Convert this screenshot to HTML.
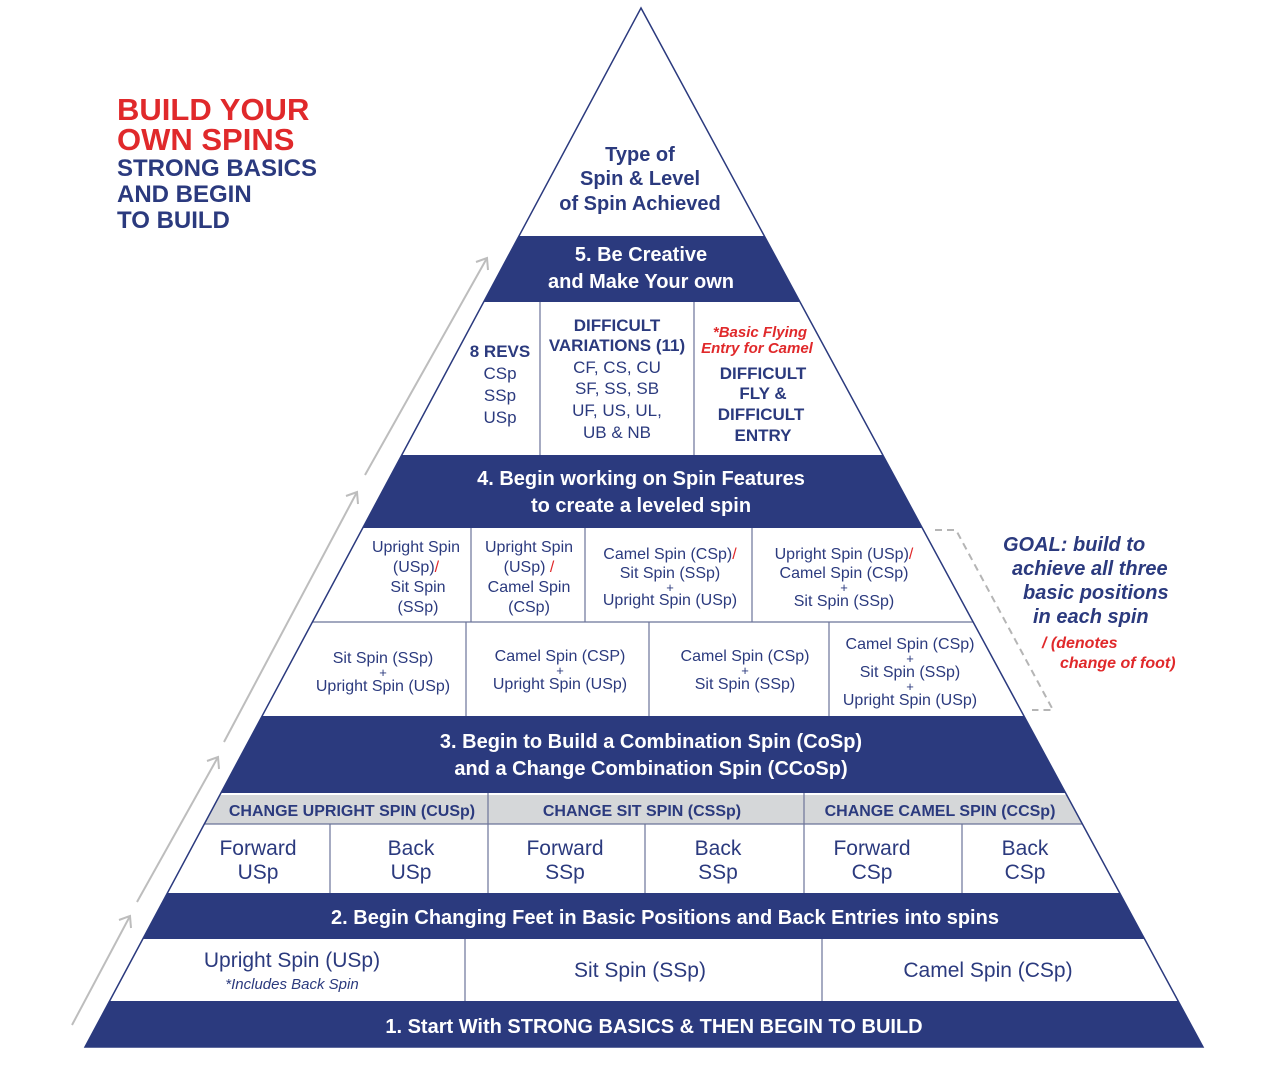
<!DOCTYPE html>
<html><head><meta charset="utf-8"><style>
html,body{margin:0;padding:0;background:#fff;}
svg{display:block;font-family:"Liberation Sans",sans-serif;}
</style></head><body>
<svg width="1280" height="1085" viewBox="0 0 1280 1085" xmlns="http://www.w3.org/2000/svg">
<defs>
<clipPath id="tri"><polygon points="641,8 85,1047 1203,1047"/></clipPath>
</defs>
<rect width="1280" height="1085" fill="#fff"/>
<g clip-path="url(#tri)">
  <rect x="0" y="236" width="1280" height="66" fill="#2b3a7e"/>
  <rect x="0" y="455" width="1280" height="73" fill="#2b3a7e"/>
  <rect x="0" y="716" width="1280" height="77" fill="#2b3a7e"/>
  <rect x="0" y="795" width="1280" height="29" fill="#d5d7d9"/>
  <rect x="0" y="893" width="1280" height="46" fill="#2b3a7e"/>
  <rect x="0" y="1001" width="1280" height="46" fill="#2b3a7e"/>
  <g stroke="#6b7399" stroke-width="1.2">
    <line x1="540" y1="302" x2="540" y2="455"/>
    <line x1="694" y1="302" x2="694" y2="455"/>
    <line x1="471" y1="528" x2="471" y2="622"/>
    <line x1="585" y1="528" x2="585" y2="622"/>
    <line x1="752" y1="528" x2="752" y2="622"/>
    <line x1="0" y1="622" x2="1280" y2="622"/>
    <line x1="466" y1="622" x2="466" y2="716"/>
    <line x1="649" y1="622" x2="649" y2="716"/>
    <line x1="829" y1="622" x2="829" y2="716"/>
    <line x1="488" y1="793" x2="488" y2="893"/>
    <line x1="804" y1="793" x2="804" y2="893"/>
    <line x1="0" y1="824" x2="1280" y2="824"/>
    <line x1="330" y1="824" x2="330" y2="893"/>
    <line x1="645" y1="824" x2="645" y2="893"/>
    <line x1="962" y1="824" x2="962" y2="893"/>
    <line x1="465" y1="939" x2="465" y2="1001"/>
    <line x1="822" y1="939" x2="822" y2="1001"/>
  </g>
</g>
<polygon points="641,8 85,1047 1203,1047" fill="none" stroke="#2b3a7e" stroke-width="1.5"/>

<!-- arrows -->
<g stroke="#bdbdbd" stroke-width="2" fill="none">
  <line x1="72" y1="1025" x2="130" y2="916"/><polyline points="119,920 130,916 131,928"/>
  <line x1="137" y1="902" x2="218" y2="757"/><polyline points="207,761 218,757 219,769"/>
  <line x1="224" y1="742" x2="357" y2="492"/><polyline points="346,496 357,492 358,504"/>
  <line x1="365" y1="475" x2="487" y2="258"/><polyline points="476,262 487,258 488,270"/>
</g>
<polyline points="935,530 956,530 1053,710 1032,710" fill="none" stroke="#b5b5b5" stroke-width="2" stroke-dasharray="7,5"/>

<!-- Title -->
<g font-weight="bold">
  <text x="117" y="120" font-size="31" fill="#e0292b">BUILD YOUR</text>
  <text x="117" y="150" font-size="31" fill="#e0292b">OWN SPINS</text>
  <text x="117" y="176" font-size="24" fill="#2b3a7e">STRONG BASICS</text>
  <text x="117" y="202" font-size="24" fill="#2b3a7e">AND BEGIN</text>
  <text x="117" y="228" font-size="24" fill="#2b3a7e">TO BUILD</text>
</g>

<g text-anchor="middle" fill="#2b3a7e">
  <g font-weight="bold" font-size="20">
    <text x="640" y="161">Type of</text>
    <text x="640" y="185">Spin &amp; Level</text>
    <text x="640" y="210">of Spin Achieved</text>
  </g>
  <g font-weight="bold" font-size="20" fill="#fff">
    <text x="641" y="261">5. Be Creative</text>
    <text x="641" y="288">and Make Your own</text>
    <text x="641" y="485">4. Begin working on Spin Features</text>
    <text x="641" y="512">to create a leveled spin</text>
    <text x="651" y="748">3. Begin to Build a Combination Spin (CoSp)</text>
    <text x="651" y="775">and a Change Combination Spin (CCoSp)</text>
    <text x="665" y="924">2. Begin Changing Feet in Basic Positions and Back Entries into spins</text>
    <text x="654" y="1033">1. Start With STRONG BASICS &amp; THEN BEGIN TO BUILD</text>
  </g>
  <text x="500" y="357" font-size="17" font-weight="bold">8 REVS</text>
  <g font-size="17"><text x="500" y="379">CSp</text><text x="500" y="401">SSp</text><text x="500" y="423">USp</text></g>
  <text x="617" y="331" font-size="17" font-weight="bold">DIFFICULT</text>
  <text x="617" y="351" font-size="17" font-weight="bold">VARIATIONS (11)</text>
  <g font-size="17"><text x="617" y="373">CF, CS, CU</text><text x="617" y="394">SF, SS, SB</text><text x="617" y="416">UF, US, UL,</text><text x="617" y="438">UB &amp; NB</text></g>
  <text x="760" y="337" font-size="15" font-weight="bold" font-style="italic" fill="#e0292b">*Basic Flying</text>
  <text x="757" y="353" font-size="15" font-weight="bold" font-style="italic" fill="#e0292b">Entry for Camel</text>
  <g font-size="17" font-weight="bold"><text x="763" y="379">DIFFICULT</text><text x="763" y="399">FLY &amp;</text><text x="761" y="420">DIFFICULT</text><text x="763" y="441">ENTRY</text></g>

  <g font-size="16">
    <text x="416" y="552">Upright Spin</text>
    <text x="416" y="572">(USp)<tspan fill="#e0292b">/</tspan></text>
    <text x="418" y="592">Sit Spin</text>
    <text x="418" y="612">(SSp)</text>
    <text x="529" y="552">Upright Spin</text>
    <text x="529" y="572">(USp) <tspan fill="#e0292b">/</tspan></text>
    <text x="529" y="592">Camel Spin</text>
    <text x="529" y="612">(CSp)</text>
    <text x="670" y="559">Camel Spin (CSp)<tspan fill="#e0292b">/</tspan></text>
    <text x="670" y="578">Sit Spin (SSp)</text>
    <text x="670" y="592" font-size="13">+</text>
    <text x="670" y="605">Upright Spin (USp)</text>
    <text x="844" y="559">Upright Spin (USp)<tspan fill="#e0292b">/</tspan></text>
    <text x="844" y="578">Camel Spin (CSp)</text>
    <text x="844" y="592" font-size="13">+</text>
    <text x="844" y="606">Sit Spin (SSp)</text>

    <text x="383" y="663">Sit Spin (SSp)</text>
    <text x="383" y="677" font-size="13">+</text>
    <text x="383" y="691">Upright Spin (USp)</text>
    <text x="560" y="661">Camel Spin (CSP)</text>
    <text x="560" y="675" font-size="13">+</text>
    <text x="560" y="689">Upright Spin (USp)</text>
    <text x="745" y="661">Camel Spin (CSp)</text>
    <text x="745" y="675" font-size="13">+</text>
    <text x="745" y="689">Sit Spin (SSp)</text>
    <text x="910" y="649">Camel Spin (CSp)</text>
    <text x="910" y="663" font-size="13">+</text>
    <text x="910" y="677">Sit Spin (SSp)</text>
    <text x="910" y="691" font-size="13">+</text>
    <text x="910" y="705">Upright Spin (USp)</text>
  </g>

  <g font-size="16" font-weight="bold">
    <text x="352" y="816">CHANGE UPRIGHT SPIN (CUSp)</text>
    <text x="642" y="816">CHANGE SIT SPIN (CSSp)</text>
    <text x="940" y="816">CHANGE CAMEL SPIN (CCSp)</text>
  </g>
  <g font-size="21">
    <text x="258" y="855">Forward</text><text x="258" y="879">USp</text>
    <text x="411" y="855">Back</text><text x="411" y="879">USp</text>
    <text x="565" y="855">Forward</text><text x="565" y="879">SSp</text>
    <text x="718" y="855">Back</text><text x="718" y="879">SSp</text>
    <text x="872" y="855">Forward</text><text x="872" y="879">CSp</text>
    <text x="1025" y="855">Back</text><text x="1025" y="879">CSp</text>
    <text x="292" y="967">Upright Spin (USp)</text>
    <text x="640" y="977">Sit Spin (SSp)</text>
    <text x="988" y="977">Camel Spin (CSp)</text>
  </g>
  <text x="292" y="989" font-size="15" font-style="italic">*Includes Back Spin</text>
</g>

<g font-weight="bold" font-style="italic" fill="#2b3a7e" font-size="20">
  <text x="1003" y="551">GOAL: build to</text>
  <text x="1012" y="575">achieve all three</text>
  <text x="1023" y="599">basic positions</text>
  <text x="1033" y="623">in each spin</text>
</g>
<g font-weight="bold" font-style="italic" fill="#e0292b" font-size="16">
  <text x="1042" y="648">/ (denotes</text>
  <text x="1060" y="668">change of foot)</text>
</g>
</svg>
</body></html>
